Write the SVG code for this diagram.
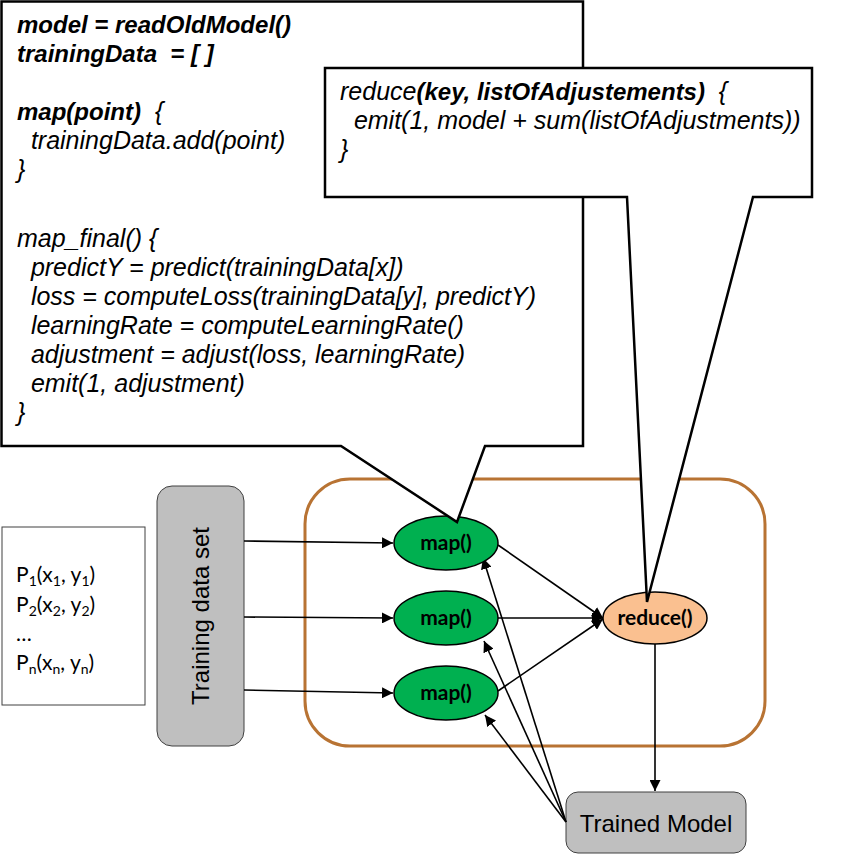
<svg xmlns="http://www.w3.org/2000/svg" width="841" height="855" viewBox="0 0 841 855">
<defs>
<marker id="arr" markerUnits="userSpaceOnUse" markerWidth="11" markerHeight="11" refX="11" refY="5.5" orient="auto">
<path d="M0,0 L11,5.5 L0,11 Z" fill="#000"/>
</marker>
<style>
.code{font-family:"Liberation Sans",Arial,sans-serif;font-size:25px;font-style:italic;fill:#000;white-space:pre}
.b{font-weight:bold}
.hb{font-size:24px}
.call{fill:#fff;stroke:#000;stroke-width:2.5;stroke-linejoin:miter}
.map{fill:#00B050;stroke:#000;stroke-width:1.5}
.lbl{font-family:Lato,"Open Sans",sans-serif;font-weight:bold;font-size:21px;fill:#000;text-anchor:middle}
.conn line{stroke:#000;stroke-width:1.6;marker-end:url(#arr)}
.gray{fill:#BFBFBF;stroke:#404040;stroke-width:1}
.big{font-family:"Liberation Sans",Arial,sans-serif;font-size:24px;fill:#000;text-anchor:middle}
.pts{font-family:Lato,"Open Sans",sans-serif;font-size:21px;fill:#000;white-space:pre}
</style>
</defs>
<rect width="841" height="855" fill="#fff"/>

<g id="points">
<rect x="2" y="527" width="143" height="178" fill="#fff" stroke="#404040" stroke-width="1"/>
<text class="pts" x="16" y="582">P<tspan font-size="14" dy="4">1</tspan><tspan dy="-4">(x</tspan><tspan font-size="14" dy="4">1</tspan><tspan dy="-4">, y</tspan><tspan font-size="14" dy="4">1</tspan><tspan dy="-4">)</tspan></text>
<text class="pts" x="16" y="612">P<tspan font-size="14" dy="4">2</tspan><tspan dy="-4">(x</tspan><tspan font-size="14" dy="4">2</tspan><tspan dy="-4">, y</tspan><tspan font-size="14" dy="4">2</tspan><tspan dy="-4">)</tspan></text>
<text class="pts" x="16" y="641">…</text>
<text class="pts" x="16" y="670">P<tspan font-size="14" dy="4">n</tspan><tspan dy="-4">(x</tspan><tspan font-size="14" dy="4">n</tspan><tspan dy="-4">, y</tspan><tspan font-size="14" dy="4">n</tspan><tspan dy="-4">)</tspan></text>
</g>

<g id="training-data-set">
<rect class="gray" x="157" y="486" width="87" height="260" rx="15"/>
<text class="big" font-size="25" transform="translate(209,616) rotate(-90)">Training data set</text>
</g>

<g id="container">
<rect x="305" y="479" width="460" height="267" rx="45" fill="none" stroke="#B87333" stroke-width="3"/>
</g>

<g id="trained-model">
<rect class="gray" x="566" y="792" width="180" height="61" rx="12"/>
<text class="big" x="656" y="832">Trained Model</text>
</g>

<g id="connectors" class="conn">
<line x1="244" y1="541" x2="393" y2="543"/>
<line x1="244" y1="617" x2="393" y2="618"/>
<line x1="244" y1="690" x2="393" y2="693"/>
<line x1="498" y1="545" x2="603" y2="618"/>
<line x1="498" y1="618" x2="603" y2="618"/>
<line x1="498" y1="691" x2="603" y2="619"/>
<line x1="655" y1="644" x2="655" y2="791"/>
<line x1="566" y1="822" x2="483" y2="558"/>
<line x1="566" y1="822" x2="484" y2="641"/>
<line x1="566" y1="822" x2="485" y2="715"/>
</g>

<g id="map1">
<ellipse class="map" cx="446" cy="543" rx="52" ry="27"/>
<text class="lbl" x="446" y="550">map()</text>
</g>
<g id="map2">
<ellipse class="map" cx="446" cy="618" rx="52" ry="27"/>
<text class="lbl" x="446" y="625">map()</text>
</g>
<g id="map3">
<ellipse class="map" cx="446" cy="693" rx="52" ry="27"/>
<text class="lbl" x="446" y="700">map()</text>
</g>
<g id="reduce">
<ellipse cx="655" cy="618" rx="52" ry="26" fill="#FAC090" stroke="#000" stroke-width="1.5"/>
<text class="lbl" x="655" y="625">reduce()</text>
</g>

<g id="map-callout">
<path class="call" d="M1.5,1.5 H583 V446 H485 L457,522 L341,446 H1.5 Z"/>
<text class="code b hb" x="17" y="33">model = readOldModel()</text>
<text class="code b hb" x="17" y="62">trainingData  = [ ]</text>
<text class="code" x="17" y="120"><tspan class="b hb">map(point)</tspan>  {</text>
<text class="code" x="17" y="149">  trainingData.add(point)</text>
<text class="code" x="17" y="178">}</text>
<text class="code" x="17" y="247">map_final() {</text>
<text class="code" x="17" y="276">  predictY = predict(trainingData[x])</text>
<text class="code" x="17" y="305">  loss = computeLoss(trainingData[y], predictY)</text>
<text class="code" x="17" y="334">  learningRate = computeLearningRate()</text>
<text class="code" x="17" y="363">  adjustment = adjust(loss, learningRate)</text>
<text class="code" x="17" y="392">  emit(1, adjustment)</text>
<text class="code" x="17" y="421">}</text>
</g>

<g id="reduce-callout">
<path class="call" d="M325,68 H812 V197 H753 L647,602 L627,197 H325 Z"/>
<text class="code" x="340" y="100">reduce<tspan class="b hb">(key, listOfAdjustements)</tspan>  {</text>
<text class="code" x="340" y="129">  emit(1, model + sum(listOfAdjustments))</text>
<text class="code" x="340" y="158">}</text>
</g>
</svg>
